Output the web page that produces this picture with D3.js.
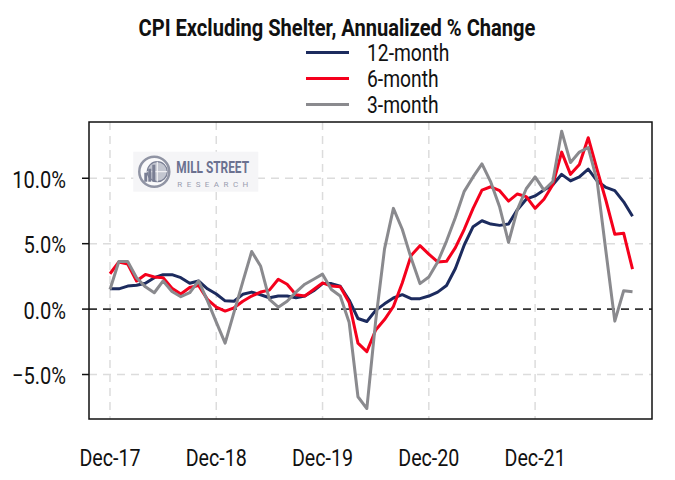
<!DOCTYPE html>
<html>
<head>
<meta charset="utf-8">
<script src="https://cdn.jsdelivr.net/npm/d3@7"></script>
<style>
  body { margin: 0; background: #fff; }
  text { font-family: Roboto, "Noto Sans", sans-serif; fill: #111; }
</style>
</head>
<body>
<div id="chart"></div>
<script>
// monthly readings, Dec-17 .. Nov-22
const m12 = [1.56, 1.55, 1.76, 1.82, 1.97, 2.4, 2.63, 2.63, 2.4, 1.97,
    2.15, 1.55, 1.15, 0.63, 0.6, 1.13, 1.3, 1.1, 0.87, 1.0,
    1.0, 0.87, 1.0, 1.4, 1.95, 1.95, 1.75, 0.7, -0.72, -0.95,
    -0.1, 0.4, 0.85, 1.1, 0.8, 0.8, 1.0, 1.3, 1.8, 3.1,
    4.9, 6.3, 6.75, 6.5, 6.4, 6.5, 7.6, 8.4, 8.65, 9.1,
    9.5, 10.3, 9.8, 10.1, 10.7, 9.8, 9.3, 9.05, 8.2, 7.1];
const m6 = [2.7, 3.6, 3.45, 2.15, 2.65, 2.45, 2.4, 1.6, 1.15, 1.65,
    1.8, 0.74, 0.15, -0.15, 0.1, 0.6, 1.0, 1.3, 1.45, 2.28,
    1.9, 1.1, 1.0, 1.5, 2.0, 1.76, 1.7, 0.5, -2.6, -3.25,
    -1.6, -0.8, 0.2, 2.0, 4.1, 4.85, 4.2, 3.6, 3.65, 4.7,
    6.1, 7.7, 9.1, 9.35, 9.05, 8.25, 8.8, 8.6, 7.7, 8.4,
    9.5, 12.0, 10.3, 11.05, 13.1, 10.65, 8.3, 5.72, 5.8, 3.05];
const m3 = [1.5, 3.64, 3.64, 2.4, 1.7, 1.25, 2.15, 1.35, 0.95, 1.25,
    2.15, 0.65, -1.0, -2.6, -0.25, 2.1, 4.4, 3.3, 0.75, 0.15,
    0.6, 1.3, 1.9, 2.28, 2.67, 1.5, 1.0, -1.0, -6.7, -7.6,
    -0.9, 4.6, 7.7, 6.1, 3.9, 1.95, 2.45, 3.6, 5.2, 7.0,
    9.0, 10.1, 11.1, 9.7, 7.8, 5.1, 7.6, 9.2, 10.1, 9.1,
    9.75, 13.6, 11.2, 12.0, 12.35, 9.8, 4.4, -0.92, 1.4, 1.32];

const xTickIdx = [0, 12, 24, 36, 48];
const xTickLabels = ["Dec-17", "Dec-18", "Dec-19", "Dec-20", "Dec-21"];
const yTicks = [-5, 0, 5, 10];

const seriesNames = ["12-month", "6-month", "3-month"];
const seriesColors = ["#1c2b5e", "#f5001c", "#8a8a8e"];

const W = 675, H = 480;
const PLOT = { left: 89, top: 122, right: 652, bottom: 419 };
const SQUEEZE = 0.82; // fake a condensed face

const svg = d3.select("#chart").append("svg")
    .attr("width", W)
    .attr("height", H);

const x = d3.scaleLinear()
    .domain([-2.37, 61.2])
    .range([PLOT.left, PLOT.right]);

const y = d3.scaleLinear()
    .domain([-8.4, 14.3])
    .range([PLOT.bottom, PLOT.top]);

function label(parent, px, py, str, size, weight, anchor, sq) {
    return parent.append("text")
        .attr("transform", `translate(${px},${py}) scale(${sq || SQUEEZE},1)`)
        .attr("text-anchor", anchor || "start")
        .attr("dominant-baseline", "central")
        .style("font-size", size + "px")
        .style("font-weight", weight || 400)
        .text(str);
}

// grid
const grid = svg.append("g");
grid.selectAll(".hg")
    .data(yTicks.filter(d => d !== 0))
    .join("line")
    .attr("x1", PLOT.left).attr("x2", PLOT.right)
    .attr("y1", d => y(d)).attr("y2", d => y(d))
    .attr("stroke", "#dcdcdc")
    .attr("stroke-width", 1.5)
    .attr("stroke-dasharray", "8,6");

grid.selectAll(".vg")
    .data(xTickIdx)
    .join("line")
    .attr("x1", d => x(d)).attr("x2", d => x(d))
    .attr("y1", PLOT.top).attr("y2", PLOT.bottom)
    .attr("stroke", "#dcdcdc")
    .attr("stroke-width", 1.5)
    .attr("stroke-dasharray", "8,6");

// logo watermark
const logo = svg.append("g").attr("transform", `translate(${x(5)}, ${y(10.5)})`);
logo.append("rect")
    .attr("x", -21).attr("y", -20)
    .attr("width", 125).attr("height", 40)
    .attr("fill", "#f5f5f7");
logo.append("circle")
    .attr("cx", 0).attr("cy", 0).attr("r", 15)
    .attr("fill", "#fafafb").attr("stroke", "#9094a4").attr("stroke-width", 2.5);
logo.append("circle")
    .attr("cx", 3).attr("cy", 0).attr("r", 10)
    .attr("fill", "#c3c6d0").attr("stroke", "#7a7f94").attr("stroke-width", 1.2);
logo.append("line")
    .attr("x1", -7).attr("x2", 13).attr("y1", 0).attr("y2", 0)
    .attr("stroke", "#fafafb").attr("stroke-width", 1);
logo.append("line")
    .attr("x1", 3).attr("x2", 3).attr("y1", -10).attr("y2", 10)
    .attr("stroke", "#fafafb").attr("stroke-width", 1);
[-10, -6, -2].forEach((bx, i) => {
    logo.append("rect")
        .attr("x", bx).attr("y", 1 - i * 4)
        .attr("width", 3).attr("height", 9 + i * 4)
        .attr("fill", "#7a7f94");
});
label(logo, 22, -3.5, "MILL STREET", 16.5, 700, "start", 0.72).style("fill", "#6b7190");
logo.append("text")
    .attr("x", 23).attr("y", 15)
    .attr("textLength", 71)
    .attr("lengthAdjust", "spacing")
    .style("font-size", "8px")
    .style("fill", "#9a9db0")
    .text("RESEARCH");

// zero line
svg.append("line")
    .attr("x1", PLOT.left).attr("x2", PLOT.right)
    .attr("y1", y(0)).attr("y2", y(0))
    .attr("stroke", "#333")
    .attr("stroke-width", 1.6)
    .attr("stroke-dasharray", "8,6");

// series
const line = d3.line()
    .x((d, i) => x(i))
    .y(d => y(d));

[m12, m6, m3].forEach((vals, k) => {
    svg.append("path")
        .datum(vals)
        .attr("d", line)
        .attr("fill", "none")
        .attr("stroke", seriesColors[k])
        .attr("stroke-width", 3)
        .attr("stroke-linejoin", "round");
});

// frame
svg.append("rect")
    .attr("x", PLOT.left).attr("y", PLOT.top)
    .attr("width", PLOT.right - PLOT.left)
    .attr("height", PLOT.bottom - PLOT.top)
    .attr("fill", "none")
    .attr("stroke", "#111")
    .attr("stroke-width", 1.5);

// y axis ticks + labels
svg.selectAll(".yt")
    .data(yTicks)
    .join("line")
    .attr("x1", PLOT.left - 7).attr("x2", PLOT.left)
    .attr("y1", d => y(d)).attr("y2", d => y(d))
    .attr("stroke", "#111").attr("stroke-width", 1.5);

yTicks.forEach(t => {
    label(svg, 66, y(t) + 1, d3.format(".1f")(t) + "%", 24.5, 400, "end");
});

// x labels
xTickIdx.forEach((t, i) => {
    label(svg, x(t), 458, xTickLabels[i], 24, 400, "middle");
});

// title
label(svg, 337, 27, "CPI Excluding Shelter, Annualized % Change", 24.5, 700, "middle");

// legend
seriesNames.forEach((name, k) => {
    const ly = 52.5 + k * 26;
    svg.append("line")
        .attr("x1", 306).attr("x2", 349)
        .attr("y1", ly).attr("y2", ly)
        .attr("stroke", seriesColors[k])
        .attr("stroke-width", 3);
    label(svg, 367, ly, name, 23.5, 400, "start");
});
</script>
</body>
</html>
